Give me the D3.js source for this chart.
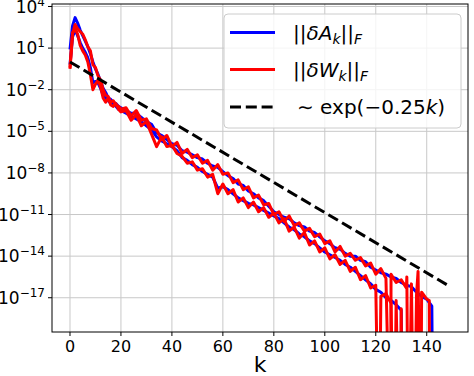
<!DOCTYPE html>
<html>
<head>
<meta charset="utf-8">
<script src="https://cdn.jsdelivr.net/npm/d3@7"></script>
<style>
  body { margin: 0; background: #fff; }
  text { font-family: "DejaVu Sans", sans-serif; fill: #000; }
</style>
</head>
<body>
<script>
// k values and log10 of the norms.
// -30 stands for a norm that dropped to zero (drawn below the axis floor).
var kBlueA = [0,1,2,3,4,5,6,7,8,9,10,11,12,13,14,15,16,17,18,19,20,
  22,24,26,28,30,32,34,36,38,40,42,44,46,48,50,52,54,56,58,60,62,64,66,68,70,72,74,76,78,80,
  82,84,86,88,90,92,94,96,98,100,102,104,106,108,110,112,114,116,118,120,122,124,126,128,130,
  132,134,136,138,140,142,142.6];
var expBlueA = [0.9,2.6,3.2,2.8,2.3,1.9,1.5,1.1,0.6,0.0,-0.5,-0.9,-1.4,-1.9,-2.2,-2.6,-2.7,-2.9,-3.0,-3.2,-3.3,
  -3.5,-3.7,-3.7,-4.0,-4.3,-4.5,-5.1,-5.3,-5.6,-5.9,-6.0,-6.4,-6.5,-6.7,-6.9,-7.0,-7.3,-7.5,-7.6,-7.9,
  -8.2,-8.4,-8.8,-8.9,-9.3,-9.5,-9.8,-10.0,-10.4,-10.8,-11.0,-11.2,-11.3,-11.6,-11.8,-11.9,-12.2,-12.3,-12.6,-12.9,
  -13.1,-13.4,-13.5,-13.8,-14.0,-14.0,-14.3,-14.4,-14.8,-15.0,-15.2,-15.3,-15.5,-15.6,-15.9,-16.1,-16.2,-16.6,-16.9,-17.1,
  -17.6,-30];

var kBlueB = [0,1,2,3,4,5,6,7,8,9,10,11,12,13,14,15,16,17,18,19,20,
  22,24,26,28,30,32,34,36,38,40,42,44,46,48,50,52,54,56,58,60,62,64,66,68,70,72,74,76,78,80,
  82,84,86,88,90,92,94,96,98,100,102,104,106,108,110,112,114,116,118,120,122,124,126,128,130,130.5];
var expBlueB = [-0.2,1.8,2.3,1.9,1.4,1.0,0.7,0.3,-0.4,-1.5,-1.4,-1.5,-1.9,-2.4,-2.6,-2.8,-3.0,-3.0,-3.2,-3.4,-3.5,
  -3.7,-3.9,-4.1,-4.3,-4.6,-4.9,-5.4,-5.7,-5.9,-6.1,-6.4,-6.9,-7.1,-7.4,-7.6,-7.9,-8.1,-8.3,-9.1,-9.0,
  -9.2,-9.5,-9.8,-10.0,-10.2,-10.3,-10.5,-10.7,-10.9,-11.1,-11.3,-11.6,-11.9,-12.1,-12.4,-12.6,-12.9,-13.1,-13.4,-13.7,
  -13.9,-14.1,-14.3,-14.6,-14.8,-15.1,-15.4,-15.7,-16.0,-16.4,-16.6,-17.0,-17.2,-17.5,-17.9,-30];

var kRedA = [0,1,2,3,4,5,6,7,8,9,10,11,12,13,14,15,16,17,18,19,20,
  22,24,26,28,30,32,34,36,38,40,42,44,46,48,50,52,54,56,58,60,62,64,66,68,70,72,74,76,78,80,
  82,84,86,88,90,92,94,96,98,100,102,104,106,108,110,112,114,116,118,120,122,124,126,128,130,
  132,134,136,138,140];
var expRedA = [-0.5,2.0,2.7,2.4,2.2,2.0,1.6,1.1,0.8,-0.2,-0.4,-1.0,-1.3,-2.0,-2.4,-2.5,-2.9,-2.8,-3.1,-3.2,-3.4,
  -3.3,-3.9,-3.5,-4.2,-4.1,-4.8,-4.9,-5.6,-5.3,-6.1,-5.8,-6.6,-6.3,-6.9,-6.7,-7.3,-7.1,-7.8,-7.4,-8.1,
  -8.0,-8.7,-8.5,-9.2,-9.0,-9.8,-9.6,-10.3,-10.2,-11.0,-10.8,-11.5,-11.1,-11.8,-11.6,-12.2,-12.0,-12.6,-12.4,-13.1,
  -12.9,-13.7,-13.3,-14.0,-13.8,-14.3,-14.1,-14.7,-14.5,-15.3,-14.9,-15.6,-15.3,-15.9,-15.7,-16.3,-16.0,-16.8,-16.6,-17.1];
// extra red points: dropouts and spikes at the tail
var kRedASpikes = [125.8,132.2,132.8,135.0,136.6,137.6,141.0,141.3];
var expRedASpikes = [-30,-15.5,-30,-30,-15.1,-30,-17.2,-30];

var kRedB = [0,1,2,3,4,5,6,7,8,9,10,11,12,13,14,15,16,17,18,19,20,
  22,24,26,28,30,32,34,36,38,40,42,44,46,48,50,52,54,56,58,60,62,64,66,68,70,72,74,76,78,80,
  82,84,86,88,90,92,94,96,98,100,102,104,106,108,110,112,114,116,118,120,122,124,126,128,130];
var expRedB = [-0.4,2.1,2.4,2.0,1.2,0.8,0.5,0.0,-0.9,-2.0,-1.6,-1.3,-1.8,-2.6,-2.9,-2.6,-3.1,-3.2,-3.0,-3.4,-3.6,
  -3.5,-4.2,-3.8,-4.6,-4.3,-5.2,-6.1,-5.4,-6.1,-6.0,-6.6,-6.8,-7.3,-7.2,-7.8,-7.7,-8.3,-8.1,-9.5,-8.8,
  -9.5,-9.2,-10.1,-9.8,-10.5,-10.1,-10.8,-10.5,-11.2,-10.9,-11.6,-11.3,-12.2,-11.9,-12.7,-12.3,-13.2,-12.9,-13.7,-13.4,
  -14.2,-13.9,-14.6,-14.3,-15.1,-14.8,-15.7,-15.4,-16.3,-16.1,-16.9,-16.7,-17.4,-17.2,-17.8];
var kRedBSpikes = [121.3,127.2,129.3,130.5];
var expRedBSpikes = [-30,-30,-30,-30];

// reference slope ~ exp(-0.25k)
var kDash = [0,149];
var expDash = [0,-16.18];

var xTicks = [0,20,40,60,80,100,120,140];
var yTickExps = [4,1,-2,-5,-8,-11,-14,-17];

var W = 474, H = 376;
var pLeft = 52, pRight = 468, pTop = 4, pBottom = 332;

var x = d3.scaleLinear().domain([-7.06, 156.2]).range([pLeft, pRight]);
var y = d3.scaleLog().domain([Math.pow(10, -19.47), Math.pow(10, 4.18)]).range([pBottom, pTop]);

var svg = d3.select("body").append("svg")
  .attr("width", W).attr("height", H);

svg.append("clipPath").attr("id", "plotclip")
  .append("rect").attr("x", pLeft).attr("y", pTop)
  .attr("width", pRight - pLeft).attr("height", pBottom - pTop);

// grid
var grid = svg.append("g").attr("stroke", "#c8c8c8").attr("stroke-width", 1);
grid.selectAll(".gx").data(xTicks).enter().append("line")
  .attr("x1", function(d) { return x(d); }).attr("x2", function(d) { return x(d); })
  .attr("y1", pTop).attr("y2", pBottom);
grid.selectAll(".gy").data(yTickExps).enter().append("line")
  .attr("x1", pLeft).attr("x2", pRight)
  .attr("y1", function(d) { return y(Math.pow(10, d)); })
  .attr("y2", function(d) { return y(Math.pow(10, d)); });

function pts(ks, es) {
  return ks.map(function(k, i) { return { k: k, e: es[i] }; });
}
function merged(ks, es, sk, se) {
  return pts(ks, es).concat(pts(sk, se)).sort(function(a, b) { return a.k - b.k; });
}

var line = d3.line()
  .x(function(d) { return x(d.k); })
  .y(function(d) { return y(Math.pow(10, d.e)); });

var plot = svg.append("g").attr("clip-path", "url(#plotclip)");

var series = [
  { data: pts(kBlueA, expBlueA), color: "#0000ff" },
  { data: pts(kBlueB, expBlueB), color: "#0000ff" },
  { data: merged(kRedA, expRedA, kRedASpikes, expRedASpikes), color: "#ff0000" },
  { data: merged(kRedB, expRedB, kRedBSpikes, expRedBSpikes), color: "#ff0000" }
];
series.forEach(function(s) {
  plot.append("path").datum(s.data)
    .attr("d", line)
    .attr("fill", "none")
    .attr("stroke", s.color)
    .attr("stroke-width", 3)
    .attr("stroke-linejoin", "round");
});

plot.append("path").datum(pts(kDash, expDash))
  .attr("d", line)
  .attr("fill", "none")
  .attr("stroke", "#000")
  .attr("stroke-width", 3)
  .attr("stroke-dasharray", "11,4.8");

// frame
svg.append("rect").attr("x", pLeft).attr("y", pTop)
  .attr("width", pRight - pLeft).attr("height", pBottom - pTop)
  .attr("fill", "none").attr("stroke", "#000").attr("stroke-width", 1);

// x axis ticks
var xa = svg.append("g");
xa.selectAll("line").data(xTicks).enter().append("line")
  .attr("x1", function(d) { return x(d); }).attr("x2", function(d) { return x(d); })
  .attr("y1", pBottom).attr("y2", pBottom + 4)
  .attr("stroke", "#000");
xa.selectAll("text").data(xTicks).enter().append("text")
  .attr("x", function(d) { return x(d); })
  .attr("y", 351.5)
  .attr("text-anchor", "middle")
  .style("font-size", "16px")
  .text(function(d) { return d; });

svg.append("text")
  .attr("x", (pLeft + pRight) / 2).attr("y", 372)
  .attr("text-anchor", "middle")
  .style("font-size", "22px")
  .text("k");

// y axis ticks, labels as 10^n
var ya = svg.append("g");
ya.selectAll("line").data(yTickExps).enter().append("line")
  .attr("x1", pLeft - 4).attr("x2", pLeft)
  .attr("y1", function(d) { return y(Math.pow(10, d)); })
  .attr("y2", function(d) { return y(Math.pow(10, d)); })
  .attr("stroke", "#000");
var yl = ya.selectAll("text").data(yTickExps).enter().append("text")
  .attr("x", 45)
  .attr("y", function(d) { return y(Math.pow(10, d)) + 6; })
  .attr("text-anchor", "end");
yl.append("tspan").style("font-size", "17px").text("10");
yl.append("tspan").style("font-size", "12px").attr("dy", -7)
  .text(function(d) { return d < 0 ? "\u2212" + (-d) : String(d); });

// legend
var lg = svg.append("g");
lg.append("rect").attr("x", 224).attr("y", 14).attr("width", 237).attr("height", 114)
  .attr("rx", 4).attr("fill", "#fff").attr("fill-opacity", 0.8)
  .attr("stroke", "#cccccc").attr("stroke-width", 1);

var rows = [32.5, 69.5, 107];
lg.append("line").attr("x1", 230).attr("x2", 275).attr("y1", rows[0]).attr("y2", rows[0])
  .attr("stroke", "#0000ff").attr("stroke-width", 3);
lg.append("line").attr("x1", 230).attr("x2", 275).attr("y1", rows[1]).attr("y2", rows[1])
  .attr("stroke", "#ff0000").attr("stroke-width", 3);
lg.append("line").attr("x1", 230).attr("x2", 275).attr("y1", rows[2]).attr("y2", rows[2])
  .attr("stroke", "#000").attr("stroke-width", 3).attr("stroke-dasharray", "11,4.8");

function normLabel(yy, letter) {
  var t = lg.append("text").attr("x", 293).attr("y", yy + 7).style("font-size", "20px");
  t.append("tspan").text("||");
  t.append("tspan").style("font-style", "italic").text("\u03b4" + letter);
  t.append("tspan").style("font-style", "italic").style("font-size", "14px").attr("dy", 4).text("k");
  t.append("tspan").attr("dy", -4).text("||");
  t.append("tspan").style("font-style", "italic").style("font-size", "14px").attr("dy", 4).text("F");
}
normLabel(rows[0], "A");
normLabel(rows[1], "W");

var t3 = lg.append("text").attr("x", 297).attr("y", rows[2] + 7).style("font-size", "20px");
t3.append("tspan").text("\u223c exp(\u22120.25");
t3.append("tspan").style("font-style", "italic").text("k");
t3.append("tspan").text(")");
</script>
</body>
</html>
